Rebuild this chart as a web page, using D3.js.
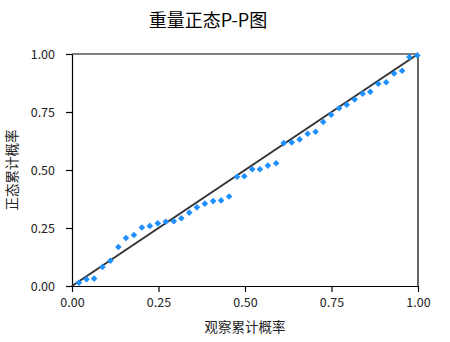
<!DOCTYPE html>
<html>
<head>
<meta charset="utf-8">
<script src="https://cdn.jsdelivr.net/npm/d3@7"></script>
<style>
  body { margin: 0; background: #fff; }
  text { font-family: "Noto Sans CJK SC", "Noto Sans", sans-serif; }
</style>
</head>
<body>
<div id="chart"></div>
<script>
// observed cumulative probability (x) and expected normal cumulative probability (y)
var observed = [0.020, 0.042, 0.064, 0.088, 0.111, 0.134, 0.156, 0.179, 0.202, 0.225,
                0.248, 0.271, 0.294, 0.316, 0.339, 0.361, 0.384, 0.408, 0.431, 0.454,
                0.477, 0.498, 0.521, 0.543, 0.566, 0.590, 0.612, 0.635, 0.658, 0.681,
                0.704, 0.726, 0.749, 0.772, 0.794, 0.817, 0.840, 0.862, 0.885, 0.908,
                0.931, 0.954, 0.975, 0.998];
var expected = [0.014, 0.029, 0.032, 0.082, 0.109, 0.168, 0.207, 0.220, 0.252, 0.259,
                0.270, 0.277, 0.279, 0.292, 0.316, 0.339, 0.355, 0.366, 0.369, 0.386,
                0.471, 0.473, 0.503, 0.503, 0.519, 0.529, 0.616, 0.619, 0.632, 0.656,
                0.665, 0.707, 0.738, 0.766, 0.781, 0.804, 0.829, 0.837, 0.872, 0.878,
                0.916, 0.928, 0.987, 0.994];
var ticks = [0, 0.25, 0.5, 0.75, 1];
var refLine = [0, 1];

var width = 450, height = 342;
var margin = {top: 54, right: 32, bottom: 56, left: 72};
var w = width - margin.left - margin.right,
    h = height - margin.top - margin.bottom;

var svg = d3.select("#chart").append("svg")
    .attr("width", width)
    .attr("height", height);

var g = svg.append("g")
    .attr("transform", "translate(" + margin.left + "," + margin.top + ")");

var x = d3.scaleLinear().domain([0, 1]).range([0, w]);
var y = d3.scaleLinear().domain([0, 1]).range([h, 0]);

// top and right frame lines
g.append("line").attr("x1", 0).attr("x2", w).attr("y1", 0).attr("y2", 0)
    .attr("stroke", "#000").attr("stroke-width", 1.2);
g.append("line").attr("x1", w).attr("x2", w).attr("y1", 0).attr("y2", h)
    .attr("stroke", "#000").attr("stroke-width", 1.2);

var xAxis = g.append("g")
    .attr("transform", "translate(0," + h + ")")
    .call(d3.axisBottom(x).tickValues(ticks).tickFormat(d3.format(".2f"))
        .tickSize(6).tickSizeOuter(0).tickPadding(6));

var yAxis = g.append("g")
    .call(d3.axisLeft(y).tickValues(ticks).tickFormat(d3.format(".2f"))
        .tickSize(6).tickSizeOuter(0).tickPadding(11));

[xAxis, yAxis].forEach(function (a) {
    a.select(".domain").attr("stroke", "#000").attr("stroke-width", 1.2);
    a.selectAll(".tick line").attr("stroke", "#000").attr("stroke-width", 1.2);
    a.selectAll("text").attr("font-size", "12.5px").attr("fill", "#222")
        .attr("font-family", "'Noto Sans CJK SC', sans-serif");
});

// reference diagonal
g.append("line")
    .attr("x1", x(refLine[0])).attr("y1", y(refLine[0]))
    .attr("x2", x(refLine[1])).attr("y2", y(refLine[1]))
    .attr("stroke", "#333").attr("stroke-width", 2);

// points
var pts = observed.map(function (d, i) { return {x: d, y: expected[i]}; });
g.selectAll("path.pt")
    .data(pts)
    .enter()
    .append("path")
    .attr("class", "pt")
    .attr("d", d3.symbol().type(d3.symbolSquare).size(22))
    .attr("transform", function (d) {
        return "translate(" + x(d.x) + "," + y(d.y) + ") rotate(45)";
    })
    .attr("fill", "#1e90ff");

// title and axis labels
svg.append("text")
    .attr("x", 208).attr("y", 27)
    .attr("text-anchor", "middle")
    .attr("font-size", "18px")
    .attr("fill", "#000")
    .text("重量正态P-P图");

svg.append("text")
    .attr("x", margin.left + w / 2).attr("y", 332)
    .attr("text-anchor", "middle")
    .attr("font-size", "13.5px")
    .attr("fill", "#222")
    .text("观察累计概率");

svg.append("text")
    .attr("transform", "translate(17," + (margin.top + h / 2) + ") rotate(-90)")
    .attr("text-anchor", "middle")
    .attr("font-size", "13.5px")
    .attr("fill", "#222")
    .text("正态累计概率");
</script>
</body>
</html>
